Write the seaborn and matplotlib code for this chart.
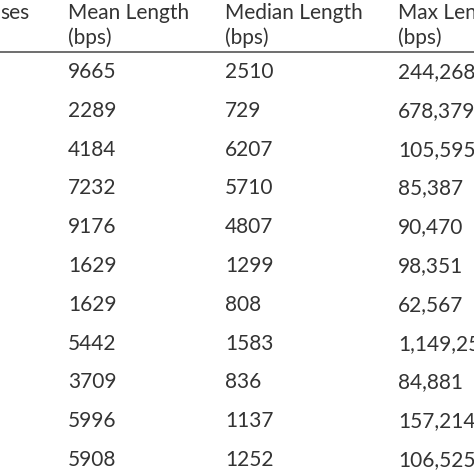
import matplotlib
matplotlib.use("Agg")
import matplotlib.pyplot as plt
import seaborn as sns

sns.set_style("white")
plt.rcParams['font.family'] = ['Lato', 'DejaVu Sans']

header_top = ["ses", "Mean Length", "Median Length", "Max Length"]
header_bot = ["", "(bps)", "(bps)", "(bps)"]
mean_len = ["9665", "2289", "4184", "7232", "9176", "1629", "1629", "5442", "3709", "5996", "5908"]
median_len = ["2510", "729", "6207", "5710", "4807", "1299", "808", "1583", "836", "1137", "1252"]
max_len = ["244,268", "678,379", "105,595", "85,387", "90,470", "98,351", "62,567",
           "1,149,252", "84,881", "157,214", "106,525"]

fig = plt.figure(figsize=(4.74, 4.74), dpi=100)
ax = fig.add_axes([0, 0, 1, 1])
ax.set_xlim(0, 474)
ax.set_ylim(474, 0)
ax.axis("off")

col_x = [0, 68, 225, 398]
col = "#333333"
fs = 15
for x, t, b in zip(col_x, header_top, header_bot):
    ax.text(x, 13, t, fontsize=fs, color=col, va="center", ha="left", fontweight="normal")
    ax.text(x, 38, b, fontsize=fs, color=col, va="center", ha="left", fontweight="normal")
ax.axhline(52, color="#555555", lw=1.2)

for i, (a, b, c) in enumerate(zip(mean_len, median_len, max_len)):
    y = 72 + i * 38.8
    for x, v in zip(col_x[1:], (a, b, c)):
        ax.text(x, y, v, fontsize=fs, color=col, va="center", ha="left", fontweight="normal")

fig.savefig("out.png", dpi=100)
